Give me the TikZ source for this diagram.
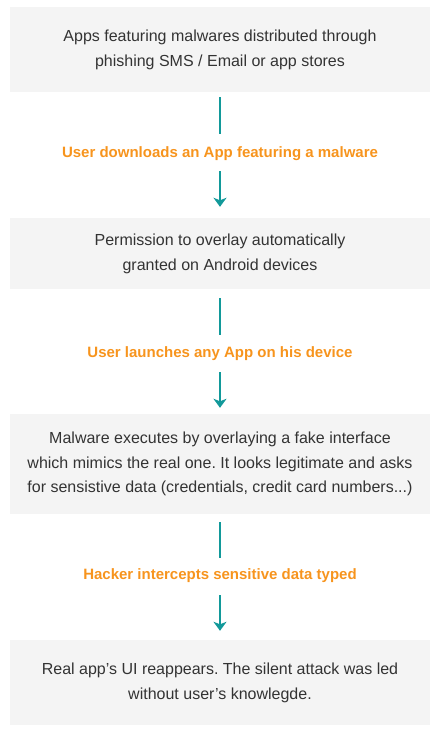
\documentclass[tikz,border=0pt]{standalone}
\usepackage{fontspec}
\setmainfont{Liberation Sans}
\usetikzlibrary{arrows.meta}
\definecolor{boxfill}{HTML}{F4F4F4}
\definecolor{bodytext}{HTML}{333333}
\definecolor{teal}{HTML}{12999A}
\definecolor{labelorange}{HTML}{F7941D}
\begin{document}
\frenchspacing
\begin{tikzpicture}[x=1pt,y=-1pt,
  stepbox/.style={rectangle, fill=boxfill, minimum width=420pt, inner sep=0pt,
    align=center, text=bodytext, font=\fontsize{16}{24.8}\selectfont\frenchspacing},
  steplabel/.style={inner sep=0pt, minimum height=24pt, text=labelorange,
    font=\fontsize{15}{18}\selectfont\bfseries},
  conn/.style={draw=teal, line width=2pt},
  arr/.style={conn, -{Stealth[length=9pt,width=13pt,inset=2.5pt]}}]
\useasboundingbox (0,0) rectangle (442,736);
\node[stepbox, minimum height=85pt] (b1) at (220,49.5)
  {\raisebox{-1pt}{Apps featuring malwares distributed through}\\\raisebox{-1pt}{phishing SMS / Email or app stores}};
\node[steplabel] (l1) at (220,153.5) {User downloads an App featuring a malware};
\node[stepbox, minimum height=71pt] (b2) at (220,253.5)
  {\raisebox{-1pt}{Permission to overlay automatically}\\\raisebox{-1pt}{granted on Android devices}};
\node[steplabel] (l2) at (220,353.5) {User launches any App on his device};
\node[stepbox, minimum height=100pt] (b3) at (220,464)
  {Malware executes by overlaying a fake interface\\which mimics the real one. It looks legitimate and asks\\for sensistive data (credentials, credit card numbers...)};
\node[steplabel] (l3) at (220,575.5) {Hacker intercepts sensitive data typed};
\node[stepbox, minimum height=85pt] (b4) at (220,682.5)
  {Real app’s UI reappears. The silent attack was led\\without user’s knowlegde.};
\draw[conn, shorten <=5pt, shorten >=7.5pt] (b1) -- (l1);
\draw[arr, shorten <=5.5pt, shorten >=11pt] (l1) -- (b2);
\draw[conn, shorten <=9pt, shorten >=6.5pt] (b2) -- (l2);
\draw[arr, shorten <=6.5pt, shorten >=6pt] (l2) -- (b3);
\draw[conn, shorten <=8pt, shorten >=5.5pt] (b3) -- (l3);
\draw[arr, shorten <=7.5pt, shorten >=9pt] (l3) -- (b4);
\end{tikzpicture}
\end{document}
